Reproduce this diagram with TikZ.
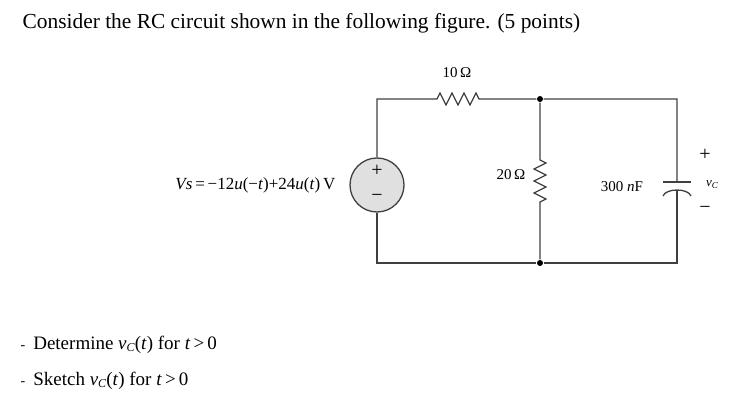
\documentclass[tikz,border=0pt]{standalone}
\usepackage{fontspec}
\setmainfont{Liberation Serif}
\begin{document}
\begin{tikzpicture}[x=1pt,y=-1pt,line width=1.3pt,
  wire/.style={draw=black!75},
  lbl/.style={font=\fontsize{15}{18}\selectfont,inner sep=0pt},
  dot/.style={circle,fill=black,inner sep=0pt,minimum size=6pt}]
\useasboundingbox (0,0) rectangle (755,411);
\node[anchor=west,inner sep=0pt,font=\fontsize{21.4}{25}\selectfont] (title) at (22,23) {Consider the RC circuit shown in the following figure. (5 points)};
\coordinate (tl) at (377,99); \coordinate (bl) at (377,263);
\coordinate (tr) at (677,99); \coordinate (br) at (677,263);
\node[dot] (tm) at (540,99) {}; \node[dot] (bm) at (540,263) {};
\node[circle,draw=black!75,fill=black!12,minimum size=54pt,inner sep=0pt] (src) at (377,185) {};
\node[font=\fontsize{20}{20}\selectfont] (plus) at (377,171) {+};
\node[font=\fontsize{20}{20}\selectfont] (minus) at (377,198) {\textminus};
\draw[wire] (src.north) -- (tl) -- (437,99) -- (440,93) -- (446,105) -- (452,93) -- (458,105) -- (464,93) -- (470,105) -- (476,93) -- (479,99) -- (tm) -- (tr) -- (677,182);
\draw[wire] (src.south) -- (bl) -- (bm) -- (br) -- (677,190);
\draw[wire] (tm) -- (540,160) -- (546,163) -- (534,169) -- (546,175) -- (534,181) -- (546,187) -- (534,193) -- (546,199) -- (540,202) -- (bm);
\draw[wire] (663,182) -- (691,182);
\draw[wire] (663,196) .. controls (666,188) and (688,188) .. (691,196);
\node[lbl] (r1) at (457,73) {10\,Ω};
\node[lbl] (r2) at (511,175) {20\,Ω};
\node[lbl] (c) at (622,187) {300 \textit{n}F};
\node[font=\fontsize{20}{20}\selectfont] (cp) at (705,155) {+};
\node[font=\fontsize{20}{20}\selectfont] (cm) at (705,210) {\textminus};
\node[lbl,font=\fontsize{13}{15}\selectfont] (vc) at (712,185) {\textit{v}\raisebox{-2pt}{\fontsize{9}{9}\selectfont\textit{C}}};
\node[lbl,anchor=east,font=\fontsize{17}{20}\selectfont] (vs) at (336,185) {\textit{Vs}\,=\,−12\textit{u}(−\textit{t})+24\textit{u}(\textit{t})\,V};
\node[anchor=west,inner sep=0pt,font=\fontsize{19}{22}\selectfont] (b1) at (20,345) {\fontsize{14}{14}\selectfont -\hspace{8pt}\fontsize{19}{22}\selectfont Determine \textit{v}\raisebox{-2pt}{\fontsize{12}{12}\selectfont\textit{C}}(\textit{t}) for \textit{t}\,>\,0};
\node[anchor=west,inner sep=0pt,font=\fontsize{19}{22}\selectfont] (b2) at (20,381) {\fontsize{14}{14}\selectfont -\hspace{8pt}\fontsize{19}{22}\selectfont Sketch \textit{v}\raisebox{-2pt}{\fontsize{12}{12}\selectfont\textit{C}}(\textit{t}) for \textit{t}\,>\,0};
\end{tikzpicture}
\end{document}
